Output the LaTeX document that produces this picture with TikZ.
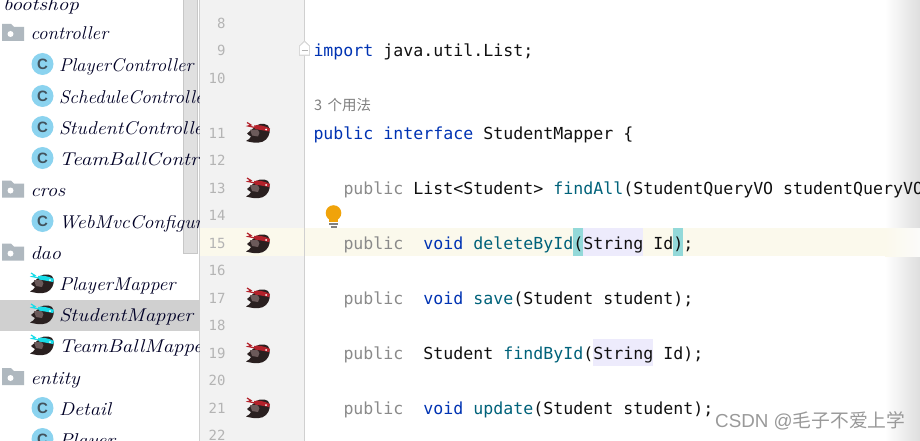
\documentclass[tikz,border=0pt]{standalone}
\usepackage{fontspec}
\newfontfamily\codefont{DejaVu Sans Mono}
\newfontfamily\cjkfont{Noto Sans CJK SC}
\newfontfamily\markfont{Liberation Sans}
\definecolor{kw}{HTML}{0033B3}
\definecolor{fn}{HTML}{00627A}
\definecolor{mod}{HTML}{8A8A8A}
\definecolor{txt}{HTML}{101010}
\definecolor{gut}{HTML}{F2F2F2}
\definecolor{gutline}{HTML}{D0D0D0}
\definecolor{lnum}{HTML}{B4B4B4}
\definecolor{folder}{HTML}{AFB8BF}
\definecolor{cball}{HTML}{8BD3EF}
\definecolor{cletter}{HTML}{41525C}
\definecolor{caret}{HTML}{FBF9EC}
\definecolor{parenbg}{HTML}{93D9D9}
\definecolor{usebg}{HTML}{EDEBFC}
\definecolor{selrow}{HTML}{D0D0D0}
\definecolor{moleband}{HTML}{B3222B}
\definecolor{moleblue}{HTML}{18DCE8}
\definecolor{molebody}{HTML}{2A2020}
\definecolor{molewing}{HTML}{6B5A5A}
\definecolor{bulb}{HTML}{F0A30A}
\tikzset{
  code/.style={anchor=base west,inner sep=0pt,outer sep=0pt,text=txt,font=\codefont\fontsize{16.6}{20}\selectfont},
  linenum/.style={anchor=base east,inner sep=0pt,outer sep=0pt,text=lnum,font=\codefont\fontsize{14}{16}\selectfont},
  tree/.style={anchor=base west,inner sep=0pt,outer sep=0pt,text=black!85!blue,font=\itshape\fontsize{18.5}{22}\selectfont},
  cdot/.style={circle,fill=cball,minimum size=22pt,inner sep=0pt,text=cletter,font=\markfont\bfseries\fontsize{15}{15}\selectfont},
  hint/.style={anchor=base west,inner sep=0pt,outer sep=0pt,text=black!50,font=\cjkfont\fontsize{14.5}{16}\selectfont}
}
\newcommand{\tw}[2]{\scalebox{#1}[1]{#2}}
\newcommand{\moleicon}[3]{%
  \begin{scope}[shift={(#1,#2)}]
    \fill[molebody] (-5,-4) .. controls (-2,-9) and (6,-10) .. (10,-7) .. controls (13,-3) and (12,3) .. (8,7)
      .. controls (4,11) and (-3,11) .. (-12,8.5) .. controls (-9,7) and (-8,6) .. (-7,4) .. controls (-9,3) and (-10,2) .. (-11,1) -- cycle;
    \fill[molewing] (-8,-3) -- (-1,-3) .. controls (2,-1) and (2,2) .. (0,4) -- (-6,3) -- cycle;
    \draw[#3,line width=1.2pt] (-11,-10) -- (-7,-7.5) -- (-10,-6.5) -- (-3,-5);
    \fill[#3] (-4,-7) .. controls (0,-8) and (6,-7) .. (12,-4) -- (11,-1) .. controls (6,-2) and (0,-3) .. (-3,-3.5) -- cycle;
    \fill[white] (8,-3) circle (1);
  \end{scope}}
\newcommand{\foldericon}[1]{%
  \begin{scope}[shift={(2,#1)}]
    \fill[folder] (0,-9) -- (9,-9) -- (12,-6) -- (22,-6) -- (22,8) -- (0,8) -- cycle;
    \fill[white] (8.5,1) circle (3);
  \end{scope}}
\begin{document}
\begin{tikzpicture}[x=1pt,y=-1pt]
\useasboundingbox (0,0) rectangle (920,441);
\begin{scope}
\clip (0,0) rectangle (920,441);
\fill[white] (0,0) rectangle (920,441);
\shade[left color=white,right color=black!13] (885,0) rectangle (920,441);
\fill[gut] (199,0) rectangle (304.5,441);
\draw[gutline,line width=.8pt] (199.5,0) -- (199.5,441);
\draw[gutline,line width=.8pt] (304.5,0) -- (304.5,441);
\fill[caret] (200,228) rectangle (885,256);
\shade[left color=caret,right color=caret!85!black!10] (885,228) rectangle (920,256);
\draw[gutline,line width=.8pt] (304.5,228) -- (304.5,256);
\fill[black!12] (183,0) rectangle (197.5,253);
\draw[black!22,line width=.7pt] (183.3,0) -- (183.3,253) -- (197.3,253) -- (197.3,0);
\fill[selrow] (0,300) rectangle (199,331);
\fill[parenbg] (573,228) rectangle (583,256);
\fill[parenbg] (673,228) rectangle (683,256);
\fill[usebg] (583,228) rectangle (643,256);
\fill[usebg] (593,339) rectangle (653,366);
\begin{scope}
\clip (0,0) rectangle (199,441);
\node[tree] (tBoot) at (3,11) {\tw{1.15}{bootshop}};
\foldericon{33}
\node[tree] (tCtl) at (30.5,40) {\tw{1.03}{controller}};
\node[cdot] (c1) at (42.5,64) {C};
\node[tree] (t1) at (59,71.5) {\tw{1.02}{PlayerController}};
\node[cdot] (c2) at (42.5,96) {C};
\node[tree] (t2) at (59,103) {\tw{1.03}{ScheduleController}};
\node[cdot] (c3) at (42.5,127) {C};
\node[tree] (t3) at (59,134) {\tw{1.08}{StudentController}};
\node[cdot] (c4) at (42.5,158) {C};
\node[tree] (t4) at (59,165) {\tw{1.15}{TeamBallController}};
\foldericon{189.5}
\node[tree] (tCros) at (30.5,196) {\tw{1.1}{cros}};
\node[cdot] (c5) at (42.5,221) {C};
\node[tree] (t5) at (59,228) {\tw{1.07}{WebMvcConfigurer}};
\foldericon{252.5}
\node[tree] (tDao) at (30.5,259) {\tw{1.1}{dao}};
\moleicon{42}{283}{moleblue}
\node[tree] (t6) at (59,290.5) {\tw{1.06}{PlayerMapper}};
\moleicon{42}{314}{moleblue}
\node[tree] (t7) at (59,321.5) {\tw{1.13}{StudentMapper}};
\moleicon{42}{345}{moleblue}
\node[tree] (t8) at (59,352.5) {\tw{1.13}{TeamBallMapper}};
\foldericon{377}
\node[tree] (tEnt) at (30.5,384) {\tw{1.1}{entity}};
\node[cdot] (c6) at (42.5,408) {C};
\node[tree] (t9) at (59,415) {\tw{1.1}{Detail}};
\node[cdot] (c7) at (42.5,439) {C};
\node[tree] (t10) at (59,446) {\tw{1.1}{Player}};
\end{scope}
\foreach \n/\b in {7/-4,8/28.5,9/55.5,10/83.5,11/138.5,12/165.5,13/193.5,14/220.5,15/248.5,16/275.5,17/303.5,18/330.5,19/358.5,20/385.5,21/413.5,22/440.5}
  \node[linenum] (ln\n) at (225.5,\b) {\n};
\foreach \y in {132.5,188,243,298,353,408}
  \moleicon{258}{\y}{moleband}
\filldraw[draw=black!15,fill=white,line width=.8pt] (299.5,46) -- (304.5,41.5) -- (309.5,46) -- (309.5,55) -- (299.5,55) -- cycle;
\draw[black!30,line width=.7pt] (301.5,50) -- (307.5,50);
\fill[bulb] (333.5,213) circle (7.8);
\fill[bulb] (329,216) rectangle (338,222);
\draw[black!50,line width=1.2pt] (329,224) -- (338,224);
\draw[black!50,line width=1.2pt] (330.5,227) -- (336.5,227);
\node[code] (l9) at (313.5,56.5) {\textcolor{kw}{import} java.util.List;};
\node[hint] (use) at (314,110.5) {3 \,个用法};
\node[code] (l11) at (313.5,139.5) {\textcolor{kw}{public interface} StudentMapper \{};
\node[code] (l13) at (343.5,194.5) {\textcolor{mod}{public} List<Student> \textcolor{fn}{findAll}(StudentQueryVO studentQueryVO};
\node[code] (l15) at (343.5,249.5) {\textcolor{mod}{public}  \ \textcolor{kw}{void} \textcolor{fn}{deleteById}(String Id);};
\node[code] (l17) at (343.5,304.5) {\textcolor{mod}{public}  \ \textcolor{kw}{void} \textcolor{fn}{save}(Student student);};
\node[code] (l19) at (343.5,359.5) {\textcolor{mod}{public}  \ Student \textcolor{fn}{findById}(String Id);};
\node[code] (l21) at (343.5,414.5) {\textcolor{mod}{public}  \ \textcolor{kw}{void} \textcolor{fn}{update}(Student student);};
\node[anchor=base west,inner sep=0pt,text=black!40] (wm) at (715,427.5) {\markfont\fontsize{18.8}{20}\selectfont CSDN @\cjkfont 毛子不爱上学};
\end{scope}
\end{tikzpicture}
\end{document}
